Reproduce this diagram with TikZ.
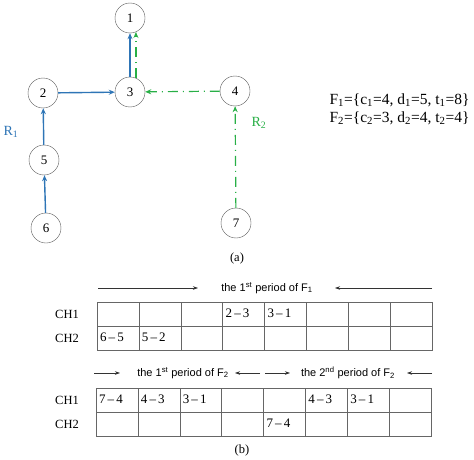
\documentclass[tikz,border=0pt]{standalone}
\usepackage{fontspec}
\setmainfont{Liberation Serif}
\setsansfont{Liberation Sans}
\definecolor{routeblue}{RGB}{46, 117, 182}
\definecolor{routegreen}{RGB}{40, 175, 70}
\usetikzlibrary{arrows.meta, positioning, calc}
\tikzset{
  station/.style={draw=black!65, circle, minimum size=30pt, inner sep=0pt, font=\fontsize{13}{15}\selectfont},
  bluelink/.style={-{Stealth[length=6pt, width=5pt]}, routeblue, line width=1.4pt},
  greenlink/.style={-{Stealth[length=6pt, width=5pt]}, routegreen, line width=1.2pt, dash pattern=on 10pt off 5pt on 1pt off 5pt},
  slot/.style={draw=black!60, minimum height=24pt, inner xsep=3pt, inner ysep=0pt, text width=35.875pt, align=left, font=\fontsize{13}{15}\selectfont},
  period/.style={font=\sffamily\fontsize{11}{13}\selectfont},
  periodarrow/.style={-{Stealth[length=5pt, width=3.5pt]}, black!80, line width=0.6pt},
  chlabel/.style={font=\fontsize{12.5}{14}\selectfont}
}

\begin{document}
\begin{tikzpicture}[x=1pt, y=-1pt]
  \useasboundingbox (0,0) rectangle (474,460);

  % (a) network
  \node[station] (n1) at (130, 18) {1};
  \node[station] (n2) at (43, 93) {2};
  \node[station] (n3) at (130, 92) {3};
  \node[station] (n4) at (235, 91) {4};
  \node[station] (n5) at (44, 160) {5};
  \node[station] (n6) at (46, 228) {6};
  \node[station] (n7) at (236, 223) {7};

  % route R1
  \draw[bluelink] (n6) -- (n5);
  \draw[bluelink] (n5) -- (n2);
  \draw[bluelink] (n2) -- (n3);
  \draw[bluelink] (n3) -- (n1);
  \node[text=routeblue, font=\fontsize{14}{16}\selectfont] (r1) at (11, 132) {R\textsubscript{1}};

  % route R2
  \draw[greenlink] (n7) -- (n4);
  \draw[greenlink] (n4) -- (n3);
  \draw[greenlink] (n3.67) -- (n1.-67);
  \node[text=routegreen, font=\fontsize{14}{16}\selectfont] (r2) at (259, 123) {R\textsubscript{2}};

  % flows
  \node[anchor=east, font=\fontsize{15.5}{17}\selectfont] (fA) at (473, 100) {F\textsubscript{1}=\{c\textsubscript{1}=4, d\textsubscript{1}=5, t\textsubscript{1}=8\}};
  \node[anchor=east, font=\fontsize{15.5}{17}\selectfont] (fB) at (473, 118) {F\textsubscript{2}=\{c\textsubscript{2}=3, d\textsubscript{2}=4, t\textsubscript{2}=4\}};

  \node[chlabel] (capA) at (237, 258) {(a)};

  % (b) schedule of F1
  \node[period] (hdA) at (267, 288) {the 1\textsuperscript{st} period of F\textsubscript{1}};
  \coordinate (hdAl) at (98, 288);
  \coordinate (hdAm) at (198, 288);
  \coordinate (hdAr) at (432, 288);
  \coordinate (hdAn) at (335, 288);
  \draw[periodarrow] (hdAl) -- (hdAm);
  \draw[periodarrow] (hdAr) -- (hdAn);

  \node[chlabel] (chA1) at (67, 314) {CH1};
  \node[chlabel] (chA2) at (67, 338) {CH2};
  \foreach \i/\up/\dn in {1//6\,–\,5, 2//5\,–\,2, 3//, 4/2\,–\,3/, 5/3\,–\,1/, 6//, 7//, 8//} {
    \node[slot] (sA1-\i) at (97+41.875*\i-20.9375, 314) {\up\strut};
    \node[slot] (sA2-\i) at (97+41.875*\i-20.9375, 338) {\dn\strut};
  }

  % (b) schedule of F2
  \node[period] (hdB) at (183, 373) {the 1\textsuperscript{st} period of F\textsubscript{2}};
  \node[period] (hdC) at (348, 373) {the 2\textsuperscript{nd} period of F\textsubscript{2}};
  \coordinate (hdBl) at (94, 373);
  \coordinate (hdBm) at (120, 373);
  \coordinate (hdBr) at (260, 373);
  \coordinate (hdBn) at (235, 373);
  \coordinate (hdCl) at (265, 373);
  \coordinate (hdCm) at (290, 373);
  \coordinate (hdCr) at (432, 373);
  \coordinate (hdCn) at (407, 373);
  \draw[periodarrow] (hdBl) -- (hdBm);
  \draw[periodarrow] (hdBr) -- (hdBn);
  \draw[periodarrow] (hdCl) -- (hdCm);
  \draw[periodarrow] (hdCr) -- (hdCn);

  \node[chlabel] (chB1) at (67, 400) {CH1};
  \node[chlabel] (chB2) at (67, 424) {CH2};
  \foreach \i/\up/\dn in {1/7\,–\,4/, 2/4\,–\,3/, 3/3\,–\,1/, 4//, 5//7\,–\,4, 6/4\,–\,3/, 7/3\,–\,1/, 8//} {
    \node[slot] (sB1-\i) at (96+41.875*\i-20.9375, 400) {\up\strut};
    \node[slot] (sB2-\i) at (96+41.875*\i-20.9375, 424) {\dn\strut};
  }

  \node[chlabel] (capB) at (242, 450) {(b)};
\end{tikzpicture}
\end{document}
